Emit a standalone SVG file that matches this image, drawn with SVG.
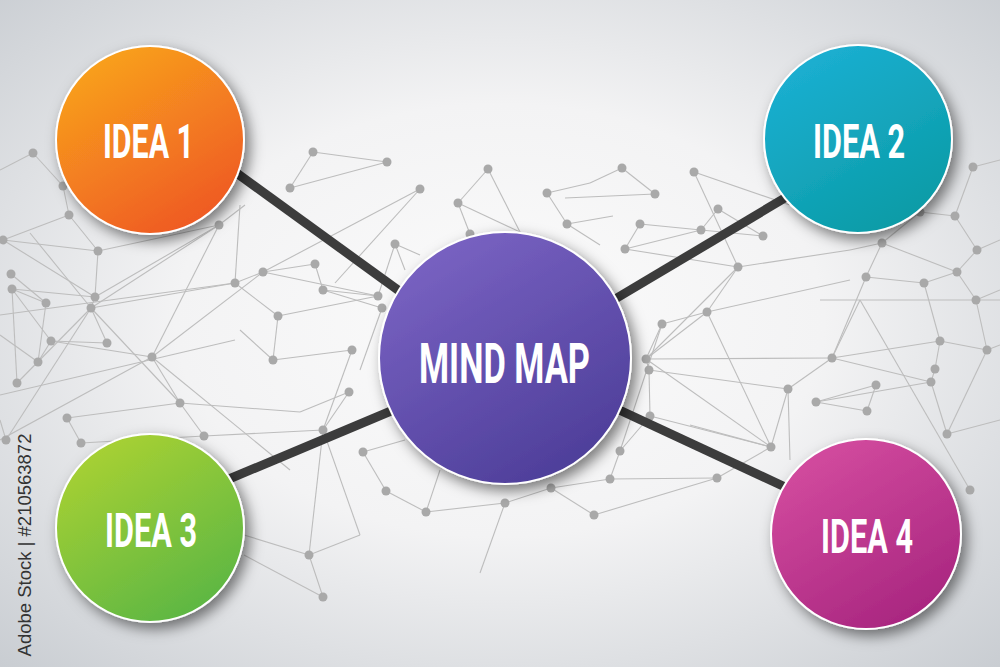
<svg xmlns="http://www.w3.org/2000/svg" width="1000" height="667" viewBox="0 0 1000 667">
<defs>
<radialGradient id="bg" cx="50%" cy="48%" r="72%">
<stop offset="0" stop-color="#fbfbfb"/>
<stop offset="0.45" stop-color="#f3f3f4"/>
<stop offset="1" stop-color="#c9cdd2"/>
</radialGradient>
<linearGradient id="gOrange" x1="0.2" y1="0" x2="0.8" y2="1">
<stop offset="0" stop-color="#f9a51c"/>
<stop offset="1" stop-color="#ee5525"/>
</linearGradient>
<linearGradient id="gTeal" x1="0.2" y1="0" x2="0.8" y2="1">
<stop offset="0" stop-color="#1cb0d4"/>
<stop offset="1" stop-color="#0a9aa3"/>
</linearGradient>
<linearGradient id="gPurple" x1="0.2" y1="0" x2="0.8" y2="1">
<stop offset="0" stop-color="#7b64c4"/>
<stop offset="1" stop-color="#4b3c97"/>
</linearGradient>
<linearGradient id="gGreen" x1="0.2" y1="0" x2="0.8" y2="1">
<stop offset="0" stop-color="#acd232"/>
<stop offset="1" stop-color="#58b545"/>
</linearGradient>
<linearGradient id="gPink" x1="0.2" y1="0" x2="0.8" y2="1">
<stop offset="0" stop-color="#d54da0"/>
<stop offset="1" stop-color="#a6247e"/>
</linearGradient>
<filter id="shadow" x="-30%" y="-30%" width="160%" height="160%">
<feDropShadow dx="5" dy="6" stdDeviation="7" flood-color="#000" flood-opacity="0.5"/>
</filter>
</defs>
<style>
.net line{stroke:#bdbdbd;stroke-width:1.1}
.net circle{fill:#a9a9a9}
.link{stroke:#3c3c3c;stroke-width:9;stroke-linecap:butt}
.node circle{stroke:#ffffff;stroke-width:2}
.label{font-family:Roboto,"Liberation Sans",sans-serif;font-weight:700;fill:#ffffff;text-anchor:middle}
.wm{font-family:"Liberation Sans",Arial,sans-serif;font-size:18.5px;fill:#333333}
</style>
<rect x="0" y="0" width="1000" height="667" fill="url(#bg)"/>

<g id="network" class="net">
<line x1="33" y1="153" x2="63" y2="186"/>
<line x1="33" y1="153" x2="0" y2="170"/>
<line x1="63" y1="186" x2="69" y2="215"/>
<line x1="69" y1="215" x2="3" y2="240"/>
<line x1="69" y1="215" x2="98" y2="251"/>
<line x1="3" y1="240" x2="98" y2="251"/>
<line x1="98" y1="251" x2="219" y2="225"/>
<line x1="3" y1="240" x2="95" y2="297"/>
<line x1="30" y1="233" x2="91" y2="308"/>
<line x1="11" y1="274" x2="46" y2="303"/>
<line x1="12" y1="289" x2="46" y2="303"/>
<line x1="12" y1="289" x2="95" y2="297"/>
<line x1="12" y1="289" x2="17" y2="383"/>
<line x1="12" y1="289" x2="51" y2="341"/>
<line x1="46" y1="303" x2="38" y2="362"/>
<line x1="51" y1="341" x2="38" y2="362"/>
<line x1="51" y1="341" x2="107" y2="343"/>
<line x1="51" y1="341" x2="152" y2="357"/>
<line x1="38" y1="362" x2="0" y2="335"/>
<line x1="98" y1="251" x2="95" y2="297"/>
<line x1="95" y1="297" x2="91" y2="308"/>
<line x1="95" y1="297" x2="219" y2="225"/>
<line x1="91" y1="308" x2="219" y2="225"/>
<line x1="91" y1="308" x2="107" y2="343"/>
<line x1="91" y1="308" x2="180" y2="403"/>
<line x1="91" y1="308" x2="235" y2="283"/>
<line x1="91" y1="308" x2="17" y2="383"/>
<line x1="219" y1="225" x2="152" y2="357"/>
<line x1="219" y1="225" x2="245" y2="205"/>
<line x1="235" y1="283" x2="240" y2="205"/>
<line x1="152" y1="357" x2="180" y2="403"/>
<line x1="152" y1="357" x2="0" y2="440"/>
<line x1="152" y1="357" x2="263" y2="272"/>
<line x1="152" y1="357" x2="290" y2="470"/>
<line x1="180" y1="403" x2="67" y2="418"/>
<line x1="180" y1="403" x2="204" y2="436"/>
<line x1="180" y1="403" x2="300" y2="412"/>
<line x1="67" y1="418" x2="81" y2="443"/>
<line x1="81" y1="443" x2="204" y2="436"/>
<line x1="6" y1="440" x2="91" y2="308"/>
<line x1="6" y1="440" x2="0" y2="420"/>
<line x1="0" y1="395" x2="235" y2="340"/>
<line x1="0" y1="315" x2="235" y2="283"/>
<line x1="313" y1="152" x2="387" y2="162"/>
<line x1="313" y1="152" x2="290" y2="188"/>
<line x1="290" y1="188" x2="387" y2="162"/>
<line x1="420" y1="189" x2="263" y2="272"/>
<line x1="420" y1="189" x2="335" y2="283"/>
<line x1="263" y1="272" x2="235" y2="283"/>
<line x1="263" y1="272" x2="315" y2="264"/>
<line x1="263" y1="272" x2="378" y2="296"/>
<line x1="315" y1="264" x2="323" y2="290"/>
<line x1="323" y1="290" x2="378" y2="296"/>
<line x1="323" y1="290" x2="382" y2="308"/>
<line x1="278" y1="316" x2="378" y2="296"/>
<line x1="278" y1="316" x2="235" y2="283"/>
<line x1="278" y1="316" x2="273" y2="360"/>
<line x1="395" y1="244" x2="378" y2="296"/>
<line x1="395" y1="244" x2="405" y2="270"/>
<line x1="395" y1="244" x2="420" y2="255"/>
<line x1="382" y1="308" x2="360" y2="370"/>
<line x1="352" y1="350" x2="273" y2="360"/>
<line x1="352" y1="350" x2="323" y2="430"/>
<line x1="273" y1="360" x2="240" y2="330"/>
<line x1="349" y1="392" x2="323" y2="430"/>
<line x1="349" y1="392" x2="300" y2="412"/>
<line x1="323" y1="430" x2="204" y2="436"/>
<line x1="323" y1="430" x2="309" y2="555"/>
<line x1="323" y1="430" x2="360" y2="535"/>
<line x1="360" y1="535" x2="309" y2="555"/>
<line x1="309" y1="555" x2="323" y2="597"/>
<line x1="309" y1="555" x2="244" y2="535"/>
<line x1="323" y1="597" x2="244" y2="555"/>
<line x1="363" y1="452" x2="386" y2="491"/>
<line x1="363" y1="452" x2="405" y2="440"/>
<line x1="386" y1="491" x2="426" y2="512"/>
<line x1="426" y1="512" x2="440" y2="470"/>
<line x1="426" y1="512" x2="505" y2="503"/>
<line x1="505" y1="503" x2="551" y2="488"/>
<line x1="551" y1="488" x2="610" y2="479"/>
<line x1="551" y1="488" x2="594" y2="515"/>
<line x1="594" y1="515" x2="717" y2="478"/>
<line x1="505" y1="503" x2="480" y2="573"/>
<line x1="610" y1="479" x2="620" y2="451"/>
<line x1="610" y1="479" x2="717" y2="478"/>
<line x1="620" y1="451" x2="650" y2="416"/>
<line x1="650" y1="416" x2="649" y2="370"/>
<line x1="649" y1="370" x2="646" y2="359"/>
<line x1="646" y1="359" x2="832" y2="358"/>
<line x1="646" y1="359" x2="771" y2="447"/>
<line x1="646" y1="359" x2="707" y2="312"/>
<line x1="646" y1="359" x2="662" y2="324"/>
<line x1="649" y1="370" x2="788" y2="389"/>
<line x1="650" y1="416" x2="771" y2="447"/>
<line x1="771" y1="447" x2="788" y2="389"/>
<line x1="771" y1="447" x2="690" y2="425"/>
<line x1="788" y1="389" x2="832" y2="358"/>
<line x1="788" y1="389" x2="790" y2="460"/>
<line x1="832" y1="358" x2="931" y2="382"/>
<line x1="832" y1="358" x2="940" y2="341"/>
<line x1="832" y1="358" x2="860" y2="300"/>
<line x1="816" y1="402" x2="867" y2="411"/>
<line x1="816" y1="402" x2="876" y2="385"/>
<line x1="816" y1="402" x2="931" y2="382"/>
<line x1="876" y1="385" x2="867" y2="411"/>
<line x1="940" y1="341" x2="935" y2="369"/>
<line x1="940" y1="341" x2="987" y2="350"/>
<line x1="935" y1="369" x2="931" y2="382"/>
<line x1="931" y1="382" x2="947" y2="434"/>
<line x1="947" y1="434" x2="987" y2="350"/>
<line x1="947" y1="434" x2="1000" y2="420"/>
<line x1="987" y1="350" x2="1000" y2="345"/>
<line x1="860" y1="300" x2="970" y2="490"/>
<line x1="717" y1="478" x2="771" y2="447"/>
<line x1="738" y1="267" x2="707" y2="312"/>
<line x1="738" y1="267" x2="694" y2="172"/>
<line x1="738" y1="267" x2="850" y2="250"/>
<line x1="738" y1="267" x2="646" y2="359"/>
<line x1="707" y1="312" x2="662" y2="324"/>
<line x1="707" y1="312" x2="771" y2="447"/>
<line x1="707" y1="312" x2="850" y2="280"/>
<line x1="662" y1="324" x2="620" y2="451"/>
<line x1="622" y1="168" x2="655" y2="194"/>
<line x1="622" y1="168" x2="590" y2="183"/>
<line x1="655" y1="194" x2="565" y2="198"/>
<line x1="694" y1="172" x2="790" y2="205"/>
<line x1="718" y1="209" x2="701" y2="230"/>
<line x1="718" y1="209" x2="763" y2="236"/>
<line x1="640" y1="224" x2="701" y2="230"/>
<line x1="640" y1="224" x2="625" y2="249"/>
<line x1="625" y1="249" x2="701" y2="230"/>
<line x1="701" y1="230" x2="763" y2="236"/>
<line x1="625" y1="249" x2="738" y2="267"/>
<line x1="488" y1="169" x2="458" y2="203"/>
<line x1="488" y1="169" x2="520" y2="232"/>
<line x1="458" y1="203" x2="470" y2="234"/>
<line x1="458" y1="203" x2="520" y2="232"/>
<line x1="547" y1="193" x2="590" y2="183"/>
<line x1="547" y1="193" x2="567" y2="224"/>
<line x1="567" y1="224" x2="613" y2="216"/>
<line x1="567" y1="224" x2="600" y2="245"/>
<line x1="973" y1="167" x2="955" y2="216"/>
<line x1="973" y1="167" x2="1000" y2="160"/>
<line x1="955" y1="216" x2="920" y2="212"/>
<line x1="955" y1="216" x2="977" y2="250"/>
<line x1="920" y1="212" x2="882" y2="243"/>
<line x1="882" y1="243" x2="866" y2="277"/>
<line x1="882" y1="243" x2="957" y2="272"/>
<line x1="866" y1="277" x2="924" y2="283"/>
<line x1="957" y1="272" x2="924" y2="283"/>
<line x1="957" y1="272" x2="977" y2="250"/>
<line x1="957" y1="272" x2="976" y2="300"/>
<line x1="976" y1="300" x2="1000" y2="290"/>
<line x1="924" y1="283" x2="940" y2="341"/>
<line x1="866" y1="277" x2="832" y2="358"/>
<line x1="977" y1="250" x2="1000" y2="240"/>
<line x1="850" y1="250" x2="882" y2="243"/>
<line x1="976" y1="300" x2="987" y2="350"/>
<line x1="820" y1="300" x2="1000" y2="300"/>
<g>
<circle cx="33" cy="153" r="4.5"/><circle cx="63" cy="186" r="4.5"/><circle cx="69" cy="215" r="4.5"/>
<circle cx="3" cy="240" r="4.5"/><circle cx="98" cy="251" r="4.5"/><circle cx="11" cy="274" r="4.5"/>
<circle cx="12" cy="289" r="4.5"/><circle cx="46" cy="303" r="4.5"/><circle cx="95" cy="297" r="4.5"/>
<circle cx="91" cy="308" r="4.5"/><circle cx="51" cy="341" r="4.5"/><circle cx="107" cy="343" r="4.5"/>
<circle cx="38" cy="362" r="4.5"/><circle cx="17" cy="383" r="4.5"/><circle cx="152" cy="357" r="4.5"/>
<circle cx="219" cy="225" r="4.5"/><circle cx="235" cy="283" r="4.5"/><circle cx="180" cy="403" r="4.5"/>
<circle cx="67" cy="418" r="4.5"/><circle cx="6" cy="440" r="4.5"/><circle cx="81" cy="443" r="4.5"/>
<circle cx="204" cy="436" r="4.5"/>
<circle cx="313" cy="152" r="4.5"/><circle cx="387" cy="162" r="4.5"/><circle cx="290" cy="188" r="4.5"/>
<circle cx="420" cy="189" r="4.5"/><circle cx="263" cy="272" r="4.5"/><circle cx="315" cy="264" r="4.5"/>
<circle cx="323" cy="290" r="4.5"/><circle cx="278" cy="316" r="4.5"/><circle cx="378" cy="296" r="4.5"/>
<circle cx="382" cy="308" r="4.5"/><circle cx="395" cy="244" r="4.5"/><circle cx="352" cy="350" r="4.5"/>
<circle cx="273" cy="360" r="4.5"/><circle cx="349" cy="392" r="4.5"/>
<circle cx="323" cy="430" r="4.5"/><circle cx="363" cy="452" r="4.5"/><circle cx="386" cy="491" r="4.5"/>
<circle cx="426" cy="512" r="4.5"/><circle cx="309" cy="555" r="4.5"/><circle cx="323" cy="597" r="4.5"/>
<circle cx="505" cy="503" r="4.5"/><circle cx="551" cy="488" r="4.5"/><circle cx="610" cy="479" r="4.5"/>
<circle cx="594" cy="515" r="4.5"/><circle cx="717" cy="478" r="4.5"/><circle cx="620" cy="451" r="4.5"/>
<circle cx="650" cy="416" r="4.5"/><circle cx="649" cy="370" r="4.5"/><circle cx="646" cy="359" r="4.5"/>
<circle cx="771" cy="447" r="4.5"/><circle cx="788" cy="389" r="4.5"/><circle cx="832" cy="358" r="4.5"/>
<circle cx="816" cy="402" r="4.5"/><circle cx="867" cy="411" r="4.5"/><circle cx="876" cy="385" r="4.5"/>
<circle cx="931" cy="382" r="4.5"/><circle cx="935" cy="369" r="4.5"/><circle cx="940" cy="341" r="4.5"/>
<circle cx="987" cy="350" r="4.5"/><circle cx="947" cy="434" r="4.5"/><circle cx="970" cy="490" r="4.5"/>
<circle cx="738" cy="267" r="4.5"/><circle cx="707" cy="312" r="4.5"/><circle cx="662" cy="324" r="4.5"/>
<circle cx="622" cy="168" r="4.5"/><circle cx="655" cy="194" r="4.5"/><circle cx="694" cy="172" r="4.5"/>
<circle cx="718" cy="209" r="4.5"/><circle cx="640" cy="224" r="4.5"/><circle cx="701" cy="230" r="4.5"/>
<circle cx="763" cy="236" r="4.5"/><circle cx="625" cy="249" r="4.5"/>
<circle cx="488" cy="169" r="4.5"/><circle cx="458" cy="203" r="4.5"/><circle cx="470" cy="234" r="4.5"/>
<circle cx="547" cy="193" r="4.5"/><circle cx="567" cy="224" r="4.5"/>
<circle cx="973" cy="167" r="4.5"/><circle cx="955" cy="216" r="4.5"/><circle cx="920" cy="212" r="4.5"/>
<circle cx="882" cy="243" r="4.5"/><circle cx="866" cy="277" r="4.5"/><circle cx="957" cy="272" r="4.5"/>
<circle cx="924" cy="283" r="4.5"/><circle cx="977" cy="250" r="4.5"/><circle cx="976" cy="300" r="4.5"/>
</g>
</g>

<g id="connectors">
<line class="link" x1="220" y1="161" x2="420" y2="306"/>
<line class="link" x1="800" y1="189" x2="600" y2="308"/>
<line class="link" x1="210" y1="487" x2="410" y2="403"/>
<line class="link" x1="600" y1="401" x2="800" y2="494"/>
</g>

<g id="idea1" class="node">
<circle cx="150" cy="140" r="94" fill="url(#gOrange)" filter="url(#shadow)"/>
<text class="label" x="148.5" y="158" font-size="48" textLength="91" lengthAdjust="spacingAndGlyphs">IDEA 1</text>
</g>
<g id="idea2" class="node">
<circle cx="858" cy="139" r="94" fill="url(#gTeal)" filter="url(#shadow)"/>
<text class="label" x="859" y="158" font-size="48" textLength="92" lengthAdjust="spacingAndGlyphs">IDEA 2</text>
</g>
<g id="mindmap" class="node">
<circle cx="505" cy="358" r="126" fill="url(#gPurple)" filter="url(#shadow)"/>
<text class="label" x="504.5" y="383" font-size="55" textLength="171" lengthAdjust="spacingAndGlyphs">MIND MAP</text>
</g>
<g id="idea3" class="node">
<circle cx="150" cy="528" r="94" fill="url(#gGreen)" filter="url(#shadow)"/>
<text class="label" x="151" y="547" font-size="48" textLength="92" lengthAdjust="spacingAndGlyphs">IDEA 3</text>
</g>
<g id="idea4" class="node">
<circle cx="866" cy="534" r="95" fill="url(#gPink)" filter="url(#shadow)"/>
<text class="label" x="867" y="553" font-size="48" textLength="92" lengthAdjust="spacingAndGlyphs">IDEA 4</text>
</g>

<text class="wm" transform="translate(31,545) rotate(-90)" text-anchor="middle">Adobe Stock | #210563872</text>
</svg>
